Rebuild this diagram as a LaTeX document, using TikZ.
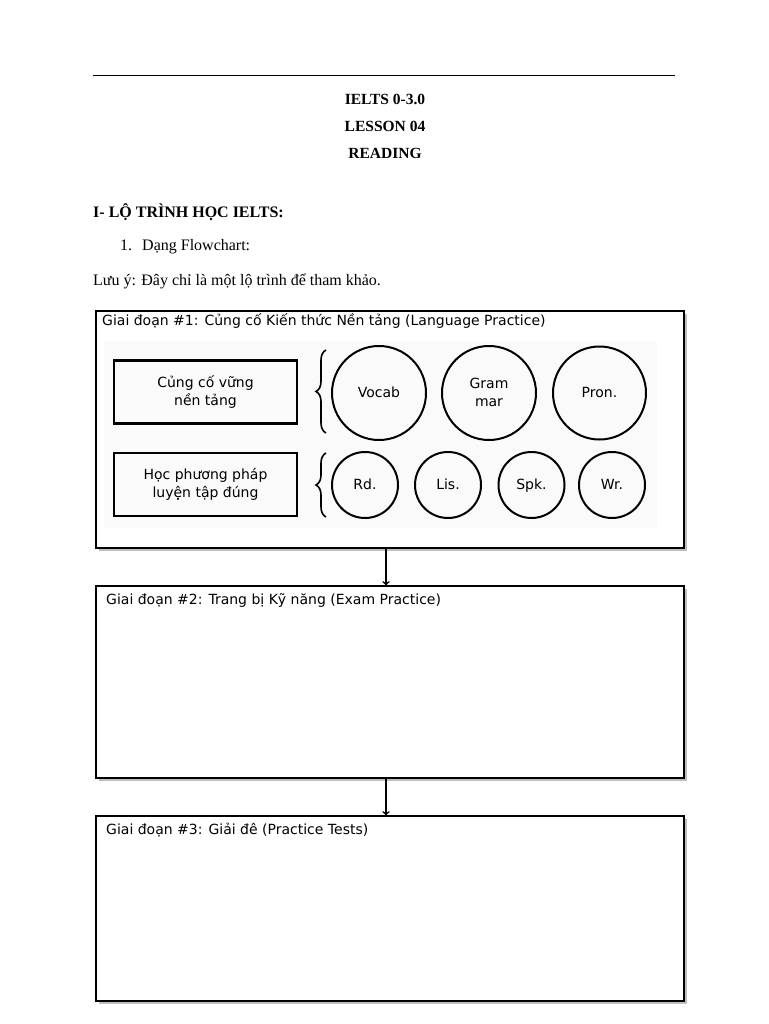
\documentclass[tikz,border=0pt]{standalone}
\usepackage{fontspec}
\setmainfont{Liberation Serif}
\newfontfamily\boxfont{DejaVu Sans}
\usetikzlibrary{shadows,decorations.pathreplacing}

\begin{document}
\begin{tikzpicture}[x=1pt, y=-1pt,
		head/.style={font=\fontsize{15.5}{18}\selectfont\bfseries, anchor=base},
		body/.style={font=\fontsize{16}{19}\selectfont, anchor=base west, inner sep=0pt},
		stage/.style={draw, line width=1.3pt, fill=white, minimum width=588pt,
			drop shadow={shadow xshift=3pt, shadow yshift=-3pt, fill=black!50}},
		stagetitle/.style={font=\boxfont\fontsize{14}{17}\selectfont, anchor=base west, inner sep=0pt},
		topic/.style={draw, line width=2.2pt, minimum width=183pt, minimum height=63pt,
			align=center, font=\boxfont\fontsize{14}{17}\selectfont},
		skill/.style={draw, circle, line width=2pt, align=center, text depth=0.25ex,
			font=\boxfont\fontsize{14}{17}\selectfont, inner sep=0pt},
		grp/.style={decorate, decoration={brace, amplitude=10pt}, line width=1.6pt}]
	\useasboundingbox[fill=white] (0,0) rectangle (768,1024);

	\draw[line width=1pt] (93,76) -- (675,76);

	\node[head] (course) at (385,105) {IELTS 0-3.0};
	\node[head] (lesson) at (385,132) {LESSON 04};
	\node[head] (skill) at (385,159) {READING};

	\node[body, font=\fontsize{16}{19}\selectfont\bfseries] (sec) at (93,218) {I- LỘ TRÌNH HỌC IELTS:};
	\node[body] (num) at (120,251) {1.};
	\node[body] (kind) at (142,251) {Dạng Flowchart:};
	\node[body] (note) at (93,285) {Lưu ý: Đây chỉ là một lộ trình để tham khảo.};

	% the three stages
	\node[stage, minimum height=237pt] (st1) at (390,429.5) {};
	\node[stage, minimum height=192pt] (st2) at (390,682) {};
	\node[stage, minimum height=185pt] (st3) at (390,908.5) {};

	\node[stagetitle] (t1) at (102,325) {Giai đoạn \#1: Củng cố Kiến thức Nền tảng (Language Practice)};
	\node[stagetitle] (t2) at (106,604) {Giai đoạn \#2: Trang bị Kỹ năng (Exam Practice)};
	\node[stagetitle] (t3) at (106,834) {Giai đoạn \#3: Giải đê (Practice Tests)};

	\draw[->, line width=1.6pt] ([xshift=-4pt]st1.south) -- ([xshift=-4pt]st2.north);
	\draw[->, line width=1.6pt] ([xshift=-4pt]st2.south) -- ([xshift=-4pt]st3.north);

	% stage 1 content
	\fill[black!2] (104,341) rectangle (657,528);
	\node[topic] (base) at (205.5,392) {Củng cố vững\\[1pt]nền tảng};
	\node[topic] (method) at (205.5,484.5) {Học phương pháp\\[1pt]luyện tập đúng};

	\draw[grp] (326,433) -- (326,350);
	\draw[grp] (326,517) -- (326,453);

	\node[skill, minimum size=94pt] (vocab) at (379,393) {Vocab};
	\node[skill, minimum size=94pt] (gram) at (489,393) {Gram\\[1pt]mar};
	\node[skill, minimum size=93pt] (pron) at (599.5,393) {Pron.};

	\node[skill, minimum size=66pt] (rd) at (365,485) {Rd.};
	\node[skill, minimum size=66pt] (lis) at (448,485) {Lis.};
	\node[skill, minimum size=66pt] (spk) at (531.5,485) {Spk.};
	\node[skill, minimum size=66pt] (wr) at (612,485) {Wr.};
\end{tikzpicture}
\end{document}
